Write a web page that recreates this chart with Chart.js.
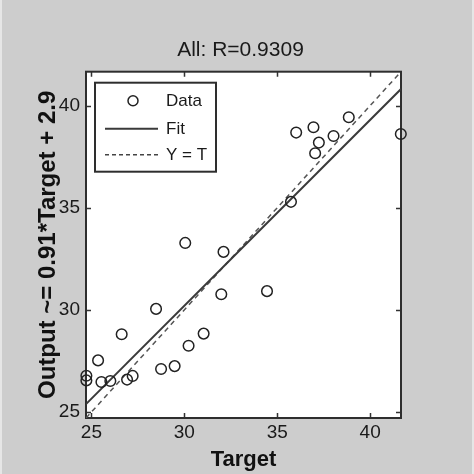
<!DOCTYPE html>
<html><head><meta charset="utf-8">
<script src="https://cdn.jsdelivr.net/npm/chart.js@4"></script>
<style>html,body{margin:0;padding:0;background:#cdcdcd}#wrap{width:474px;height:474px;position:relative}</style>
</head><body><div id="wrap"><canvas id="c"></canvas></div>
<script>
// ---- data ----
const targets = [24.73, 24.73, 25.36, 25.54, 26.02, 26.63, 26.92, 27.22, 28.48, 28.75, 29.48, 30.05, 30.23, 31.04, 31.99, 32.11, 34.45, 35.74, 36.02, 36.95, 37.04, 37.24, 38.03, 38.85, 41.65];
const outputs = [26.55, 26.78, 27.53, 26.47, 26.52, 28.81, 26.59, 26.77, 30.05, 27.11, 27.25, 33.28, 28.25, 28.84, 30.77, 32.84, 30.92, 35.29, 38.68, 38.94, 37.67, 38.19, 38.51, 39.43, 38.61];
const fitX = [24.71, 41.66];
const fitY = [25.39, 40.81];
const identityX = [24.71, 41.66];
const identityY = [24.71, 41.66];
const xTicks = [25, 30, 35, 40];
const yTicks = [25, 30, 35, 40];
const axisMin = 24.71, axisMax = 41.66;
const titleText = 'All: R=0.9309';
const xTitle = 'Target';
const yTitle = 'Output ~= 0.91*Target + 2.9';
const legendLabels = ['Data', 'Fit', 'Y = T'];

const NARROW = "'Liberation Sans Narrow', 'Arial Narrow', 'Liberation Sans', Arial, sans-serif";
const SANS = "'Liberation Sans', Arial, Helvetica, sans-serif";

const framePlugin = {
  id: 'frame',
  beforeDraw(chart) {
    const {ctx, width, height, chartArea: a} = chart;
    ctx.save();
    ctx.fillStyle = '#cdcdcd';
    ctx.fillRect(0, 0, width, height);
    ctx.fillStyle = '#e6e6e6';
    ctx.fillRect(0, 0, 2, height);
    ctx.fillRect(width - 2, 0, 2, height);
    ctx.fillStyle = '#ffffff';
    ctx.fillRect(a.left, a.top, a.right - a.left, a.bottom - a.top);
    ctx.restore();
  },
  beforeDatasetsDraw(chart) {
    const {ctx, chartArea: a, scales} = chart;
    ctx.save();
    ctx.strokeStyle = '#333';
    ctx.lineWidth = 1.5;
    ctx.beginPath();
    xTicks.forEach(v => {
      const p = Math.round(scales.x.getPixelForValue(v)) + 0.5;
      ctx.moveTo(p, a.bottom); ctx.lineTo(p, a.bottom - 5);
      ctx.moveTo(p, a.top); ctx.lineTo(p, a.top + 5);
    });
    yTicks.forEach(v => {
      const p = Math.round(scales.y.getPixelForValue(v)) + 0.5;
      ctx.moveTo(a.left, p); ctx.lineTo(a.left + 5, p);
      ctx.moveTo(a.right, p); ctx.lineTo(a.right - 5, p);
    });
    ctx.stroke();
    ctx.lineWidth = 2;
    ctx.strokeStyle = '#2e2e2e';
    ctx.strokeRect(a.left, a.top, a.right - a.left, a.bottom - a.top);
    ctx.restore();
  },
  afterDatasetsDraw(chart) {
    const {ctx, chartArea: a} = chart;
    const L = a.left + 9, T = a.top + 11, W = 121, H = 89;
    ctx.save();
    ctx.fillStyle = '#fff';
    ctx.fillRect(L, T, W, H);
    ctx.strokeStyle = '#2e2e2e';
    ctx.lineWidth = 2;
    ctx.strokeRect(L, T, W, H);
    const rows = [T + 18, T + 46, T + 72];
    ctx.lineWidth = 1.5;
    ctx.strokeStyle = '#222';
    ctx.beginPath();
    ctx.arc(L + 38, rows[0], 5, 0, Math.PI * 2);
    ctx.stroke();
    ctx.strokeStyle = '#3a3a3a';
    ctx.lineWidth = 2;
    ctx.beginPath();
    ctx.moveTo(L + 10, rows[1]); ctx.lineTo(L + 63, rows[1]);
    ctx.stroke();
    ctx.strokeStyle = '#444';
    ctx.lineWidth = 1.5;
    ctx.setLineDash([4, 3]);
    ctx.beginPath();
    ctx.moveTo(L + 10, rows[2]); ctx.lineTo(L + 63, rows[2]);
    ctx.stroke();
    ctx.setLineDash([]);
    ctx.fillStyle = '#1a1a1a';
    ctx.font = '17px ' + SANS;
    ctx.textBaseline = 'middle';
    ctx.textAlign = 'left';
    legendLabels.forEach((t, i) => ctx.fillText(t, L + 71, rows[i] + 1));
    ctx.restore();
  }
};

new Chart(document.getElementById('c'), {
  type: 'scatter',
  data: {
    datasets: [
      {
        label: legendLabels[0],
        data: targets.map((t, i) => ({x: t, y: outputs[i]})),
        pointStyle: 'circle',
        pointRadius: 5.3,
        pointBorderWidth: 1.5,
        borderColor: '#222',
        backgroundColor: 'rgba(0,0,0,0)',
        clip: 10
      },
      {
        label: legendLabels[1],
        data: fitX.map((x, i) => ({x, y: fitY[i]})),
        showLine: true,
        pointRadius: 0,
        borderColor: '#3a3a3a',
        borderWidth: 2
      },
      {
        label: legendLabels[2],
        data: identityX.map((x, i) => ({x, y: identityY[i]})),
        showLine: true,
        pointRadius: 0,
        borderColor: '#555',
        borderWidth: 1.5,
        borderDash: [5, 4]
      }
    ]
  },
  options: {
    responsive: true,
    maintainAspectRatio: false,
    animation: false,
    devicePixelRatio: 1,
    layout: {padding: {left: 7, right: 0, top: 0, bottom: 0}},
    plugins: {
      legend: {display: false},
      tooltip: {enabled: false},
      title: {
        display: true,
        text: titleText,
        color: '#1a1a1a',
        font: {family: SANS, size: 21, weight: 'normal', lineHeight: 1.2},
        padding: {top: 37.6, bottom: 8.9}
      }
    },
    scales: {
      x: {
        type: 'linear', position: 'bottom', min: axisMin, max: axisMax,
        afterBuildTicks: s => { s.ticks = xTicks.map(v => ({value: v})); },
        afterFit: s => { s.height = 56; },
        ticks: {padding: 3, color: '#1a1a1a', autoSkip: false, maxRotation: 0,
                font: {family: NARROW, size: 19, lineHeight: 1.2}},
        grid: {display: false, drawTicks: false},
        border: {display: false},
        title: {display: true, text: xTitle, color: '#111',
                font: {family: NARROW, size: 22, weight: 'bold', lineHeight: 1},
                padding: {top: 0, bottom: 3}}
      },
      y: {
        type: 'linear', position: 'left', min: axisMin, max: axisMax,
        afterBuildTicks: s => { s.ticks = yTicks.map(v => ({value: v})); },
        afterFit: s => { s.width = 79; },
        ticks: {padding: 6, color: '#1a1a1a', autoSkip: false,
                font: {family: NARROW, size: 19, lineHeight: 1.2}},
        grid: {display: false, drawTicks: false},
        border: {display: false},
        title: {display: true, text: yTitle, color: '#111',
                font: {family: SANS, size: 24, weight: 'bold', lineHeight: 1},
                padding: {top: 29, bottom: 0}}
      },
      y2: {
        type: 'linear', position: 'right', min: axisMin, max: axisMax,
        afterFit: s => { s.width = 73; },
        ticks: {display: false},
        grid: {display: false, drawTicks: false},
        border: {display: false}
      }
    }
  },
  plugins: [framePlugin]
});
</script>
</body></html>
